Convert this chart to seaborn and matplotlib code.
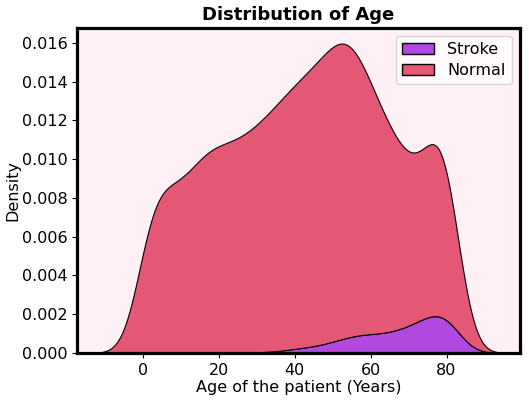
import numpy as np
import pandas as pd
import seaborn as sns
import matplotlib
matplotlib.use("Agg")
import matplotlib.pyplot as plt
from matplotlib.patches import Patch

# Ages of patients (years) and approximate number of patients per age
ages = list(range(0, 83))
total_counts = [50, 50, 50,
                44, 44, 44, 44, 44, 44, 44, 44, 45, 45,
                48, 51, 53, 54, 55, 55,
                55, 55, 55, 55, 56, 56, 56, 56, 57, 58,
                59, 60, 61, 62, 63, 64, 65,
                66, 68, 69, 70, 71, 72, 73, 74, 75,
                75, 76, 77, 79, 81, 82,
                84, 85, 86, 86, 86, 84,
                81, 77, 74, 71,
                68, 66, 64, 62, 60, 58,
                55, 53, 51, 50, 49, 49, 48, 48, 49, 50,
                68, 72, 72, 71, 70, 69]
stroke_counts = [0] * 30 + [0, 0, 1, 0, 0, 0, 1, 0, 1, 1,
                            1, 1, 2, 1, 2, 1, 2, 2, 2, 2,
                            3, 4, 3, 4, 4,
                            5, 5, 5, 5, 5, 5, 5, 5, 5, 5, 5, 5,
                            6, 6, 7, 7, 7, 7,
                            9, 9, 10, 10, 10,
                            13, 13, 13, 13, 13]
normal_counts = [t - s for t, s in zip(total_counts, stroke_counts)]

labels = ["Stroke", "Normal"]
colors = ["#b348e0", "#e55875"]
bandwidth_years = 4.0

df = pd.DataFrame({
    "age": ages * 2,
    "count": stroke_counts + normal_counts,
    "group": ["Stroke"] * len(ages) + ["Normal"] * len(ages),
})
df = df[df["count"] > 0]


def fixed_bw(kde):
    std = np.sqrt(np.cov(kde.dataset, aweights=kde.weights))
    return bandwidth_years / std


fig = plt.figure(figsize=(5.29, 4.01), dpi=100)
ax = fig.add_axes([0.1456, 0.12, 0.837, 0.81])
ax.set_facecolor("#fff0f5")

sns.kdeplot(data=df, x="age", weights="count", hue="group",
            hue_order=["Normal", "Stroke"], multiple="stack",
            bw_method=fixed_bw,
            palette={"Stroke": colors[0], "Normal": colors[1]},
            alpha=1, edgecolor="black", linewidth=0.8, ax=ax, legend=False)

for s in ax.spines.values():
    s.set_linewidth(2.3)
    s.set_color("black")

ax.set_title("Distribution of Age", fontsize=13, fontweight="bold")
ax.set_xlabel("Age of the patient (Years)", fontsize=11.5, labelpad=1.5)
ax.set_ylabel("Density", fontsize=11.5, labelpad=1)
ax.tick_params(labelsize=11.5)
ax.set_xticks([0, 20, 40, 60, 80])

handles = [Patch(facecolor=c, edgecolor="black", label=l) for c, l in zip(colors, labels)]
ax.legend(handles=handles, loc="upper right", fontsize=11.5, labelspacing=0.35)

fig.savefig("out.png", dpi=100)
